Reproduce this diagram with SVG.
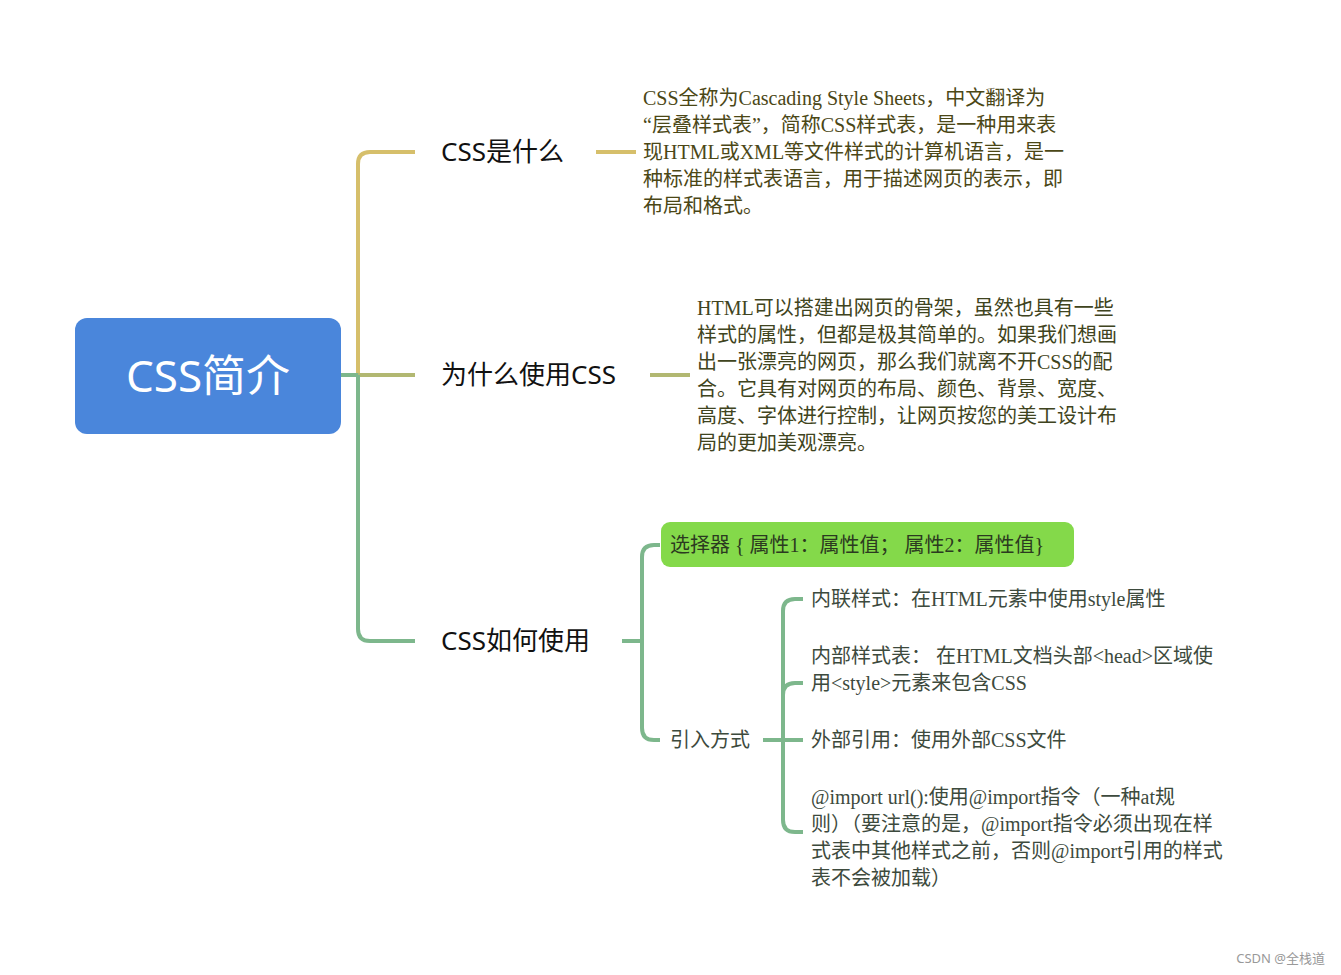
<svg xmlns="http://www.w3.org/2000/svg" width="1341" height="975" viewBox="0 0 1341 975">
<style>
.m{font-family:"Noto Sans","Noto Sans CJK SC",sans-serif;font-size:26px;fill:#111}
.d{font-family:"Liberation Serif","Noto Sans CJK SC",serif;font-size:20px}
.c{fill:none;stroke-width:4;stroke-linecap:butt}
</style>
<rect width="1341" height="975" fill="#fff"/>
<g id="connectors">
<path class="c" stroke="#d6bf6b" d="M358 375 V164 Q358 152 370 152 H415"/>
<path class="c" stroke="#b2b872" d="M341 375 H415"/>
<path class="c" stroke="#7db78c" d="M341 375 H358 M358 375 V629 Q358 641 370 641 H415"/>
<path class="c" stroke="#d6bf6b" d="M596 152 H636"/>
<path class="c" stroke="#b2b872" d="M650 375 H690"/>
<path class="c" stroke="#7db78c" d="M622 641 H642 M660 545 H654 Q642 545 642 557 V728 Q642 740 654 740 H660"/>
<path class="c" stroke="#7db78c" d="M763 740 H803 M803 599 H795 Q783 599 783 611 V820 Q783 832 795 832 H803 M803 683 H795 Q783 683 783 695"/>
</g>
<g id="root"><rect x="75" y="318" width="266" height="116" rx="12" fill="#4a86db"/><text x="208" y="392" text-anchor="middle" font-family="Noto Sans,Noto Sans CJK SC,sans-serif" font-size="44" fill="#fff">CSS简介</text></g>
<g id="n1"><text class="m" x="441" y="161">CSS是什么</text></g>
<g id="n2"><text class="m" x="441" y="384">为什么使用CSS</text></g>
<g id="n3"><text class="m" x="441" y="650">CSS如何使用</text></g>
<g id="d1" class="d" fill="#4b4716"><text x="643" y="105">CSS全称为Cascading Style Sheets，中文翻译为</text><text x="643" y="132">“层叠样式表”，简称CSS样式表，是一种用来表</text><text x="643" y="159">现HTML或XML等文件样式的计算机语言，是一</text><text x="643" y="186">种标准的样式表语言，用于描述网页的表示，即</text><text x="643" y="213">布局和格式。</text></g>
<g id="d2" class="d" fill="#3f4420"><text x="697" y="315">HTML可以搭建出网页的骨架，虽然也具有一些</text><text x="697" y="342">样式的属性，但都是极其简单的。如果我们想画</text><text x="697" y="369">出一张漂亮的网页，那么我们就离不开CSS的配</text><text x="697" y="396">合。它具有对网页的布局、颜色、背景、宽度、</text><text x="697" y="423">高度、字体进行控制，让网页按您的美工设计布</text><text x="697" y="450">局的更加美观漂亮。</text></g>
<g id="sel"><rect x="661" y="522" width="413" height="45" rx="9" fill="#84d94a"/><text class="d" x="670" y="552" fill="#2b3a20">选择器 { 属性1：属性值；  属性2：属性值}</text></g>
<g id="yr"><text class="d" x="670" y="747" fill="#3d4a3d">引入方式</text></g>
<g id="i1"><text class="d" x="811" y="606" fill="#3d4a3d">内联样式：在HTML元素中使用style属性</text></g>
<g id="i2" class="d" fill="#3d4a3d"><text x="811" y="663">内部样式表：  在HTML文档头部&lt;head&gt;区域使</text><text x="811" y="690">用&lt;style&gt;元素来包含CSS</text></g>
<g id="i3"><text class="d" x="811" y="747" fill="#3d4a3d">外部引用：使用外部CSS文件</text></g>
<g id="i4" class="d" fill="#3d4a3d"><text x="811" y="804">@import url():使用@import指令（一种at规</text><text x="811" y="831">则）（要注意的是，@import指令必须出现在样</text><text x="811" y="858">式表中其他样式之前，否则@import引用的样式</text><text x="811" y="885">表不会被加载）</text></g>
<text x="1325" y="963" text-anchor="end" font-family="Noto Sans,Noto Sans CJK SC,sans-serif" font-size="13" fill="#999">CSDN @全栈道</text>
</svg>
